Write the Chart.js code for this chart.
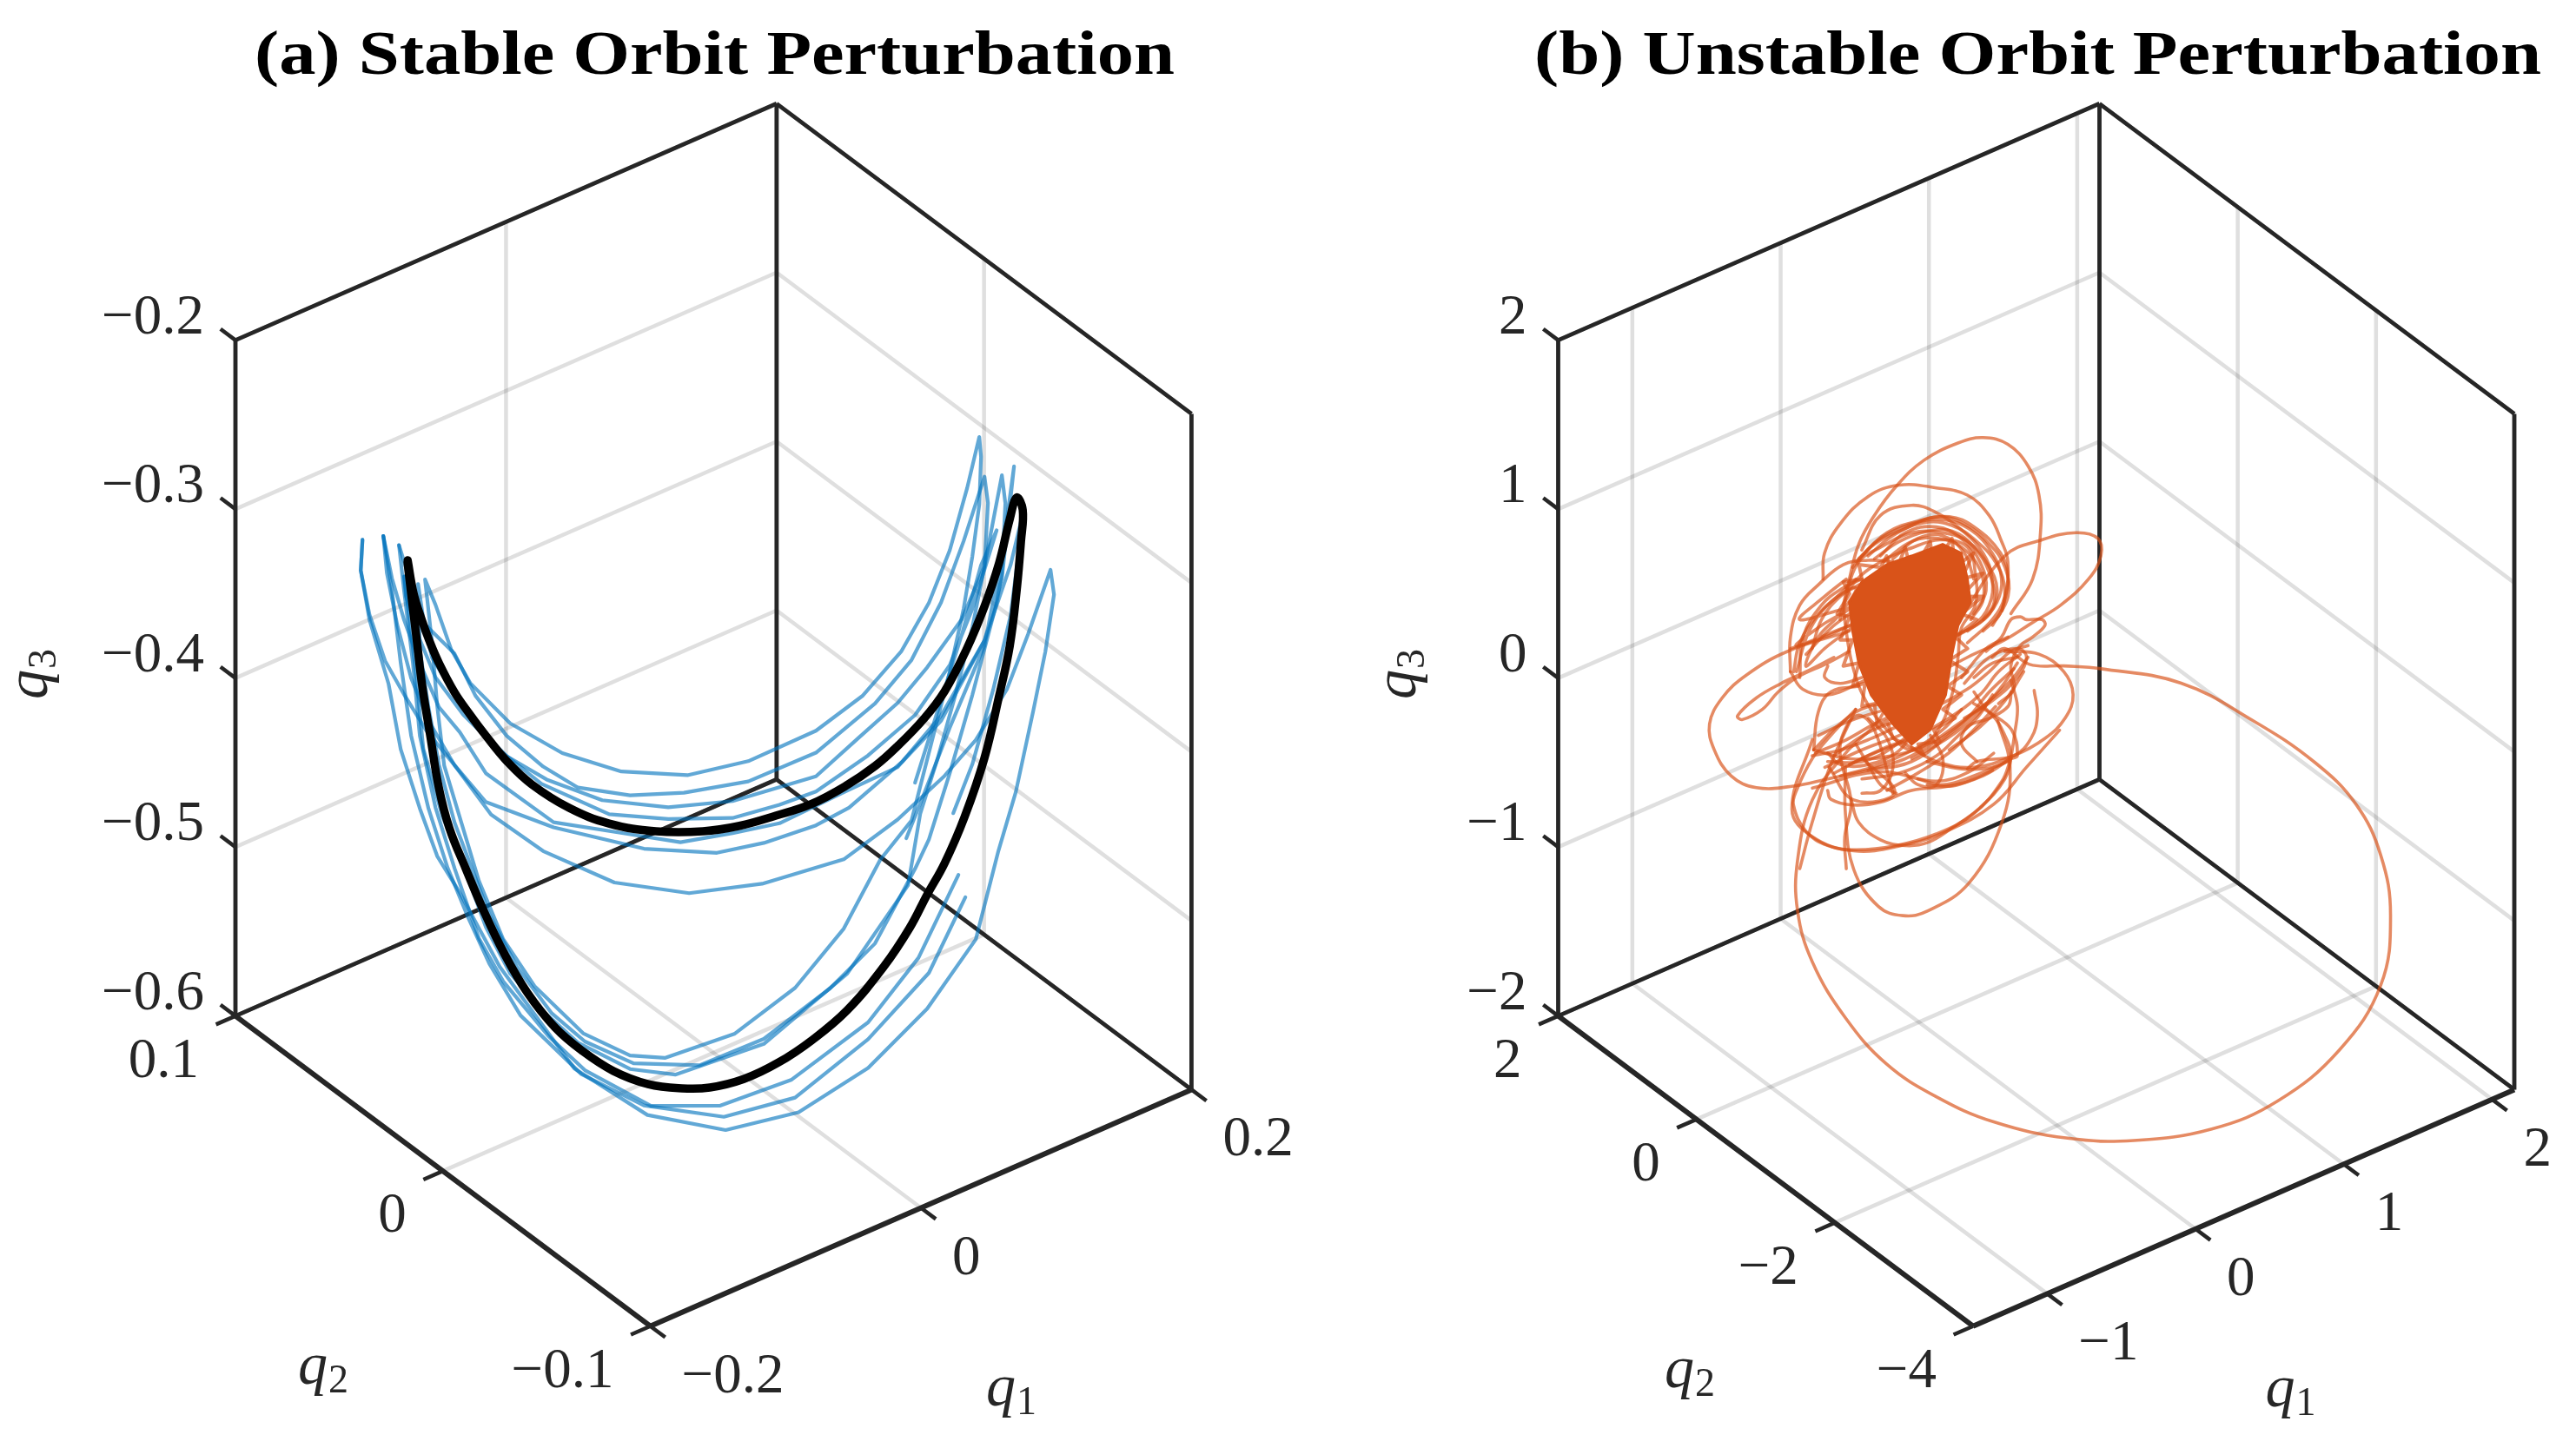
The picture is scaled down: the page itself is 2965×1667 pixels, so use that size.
<!DOCTYPE html>
<html>
<head>
<meta charset="utf-8">
<title>Orbit perturbation</title>
<script src="https://cdn.jsdelivr.net/npm/chart.js@4"></script>
<style>
  html, body { margin: 0; background: #fff; }
  canvas { position: absolute; top: 0; }
</style>
</head>
<body>
<canvas id="panelA" width="1540" height="1667" style="left:0"></canvas>
<canvas id="panelB" width="1425" height="1667" style="left:1540px"></canvas>
<script>
/* ===== AXIS TICKS ===== */
const stableQ1Ticks = [-0.2, 0, 0.2];
const stableQ2Ticks = [0.1, 0, -0.1];
const stableQ3Ticks = [-0.2, -0.3, -0.4, -0.5, -0.6];
const stableQ1Labels = ['−0.2', '0', '0.2'];
const stableQ2Labels = ['0.1', '0', '−0.1'];
const stableQ3Labels = ['−0.2', '−0.3', '−0.4', '−0.5', '−0.6'];

const unstableQ1Ticks = [-1, 0, 1, 2];
const unstableQ2Ticks = [2, 0, -2, -4];
const unstableQ3Ticks = [2, 1, 0, -1, -2];
const unstableQ1Labels = ['−1', '0', '1', '2'];
const unstableQ2Labels = ['2', '0', '−2', '−4'];
const unstableQ3Labels = ['2', '1', '0', '−1', '−2'];

/* ===== (a) NOMINAL ORBIT ===== */
const orbitQ1 = [-.176,-.1726,-.168,-.1636,-.158,-.149,-.140,-.131,-.1186,-.1046,-.0831,-.0601,-.0331,-.0061,.0144,.0359,.056,.076,.093,.106,.121,.133,.1455,.156,.1644,.1705,.1745,.178,.177,.1745,.1705,.1644,.1559,.1444,.133,.123,.113,.098,.0769,.0569,.0374,.0174,-.0021,-.0181,-.0376,-.0576,-.0754,-.0911,-.1071,-.1206,-.1326,-.1426,-.152,-.158,-.163,-.1676,-.171,-.1738,-.1761];
const orbitQ3 = [-.2768,-.2970,-.3133,-.3265,-.3409,-.3599,-.3748,-.3887,-.4064,-.4223,-.4401,-.4535,-.4629,-.4678,-.4684,-.4661,-.4630,-.4558,-.4470,-.4375,-.4242,-.4100,-.3877,-.3638,-.3396,-.3150,-.3028,-.3107,-.3290,-.3578,-.3901,-.4183,-.4538,-.4867,-.5118,-.5285,-.5463,-.5667,-.5887,-.6026,-.6125,-.6187,-.6202,-.6178,-.6118,-.6004,-.5854,-.5687,-.5452,-.5192,-.4913,-.4653,-.4396,-.4149,-.3830,-.3529,-.3229,-.2987,-.2778];

/* ===== (a) PERTURBED TRAJECTORIES ===== */
const stableQ1 = [
  [-.166,-.160,-.151,-.140,-.117,-.087,-.053,-.015,.020,.059,.086,.108,.124,.136,.146,.153,.154,.153,.149,.144,.136,.126,.114,.096,.075,.047,.012,-.028,-.048,-.075,-.103,-.121,-.135,-.155,-.159,-.162,-.166],
  [-.181,-.177,-.169,-.149,-.137,-.119,-.098,-.078,-.048,-.017,.020,.059,.093,.114,.131,.144,.156,.158,.156,.149,.139,.129,.119,.112,.077,.029,-.022,-.048,-.078,-.097,-.117,-.131,-.141,-.156,-.167,-.171,-.175,-.178],
  [-.170,-.167,-.162,-.148,-.133,-.119,-.096,-.064,-.026,.011,.059,.083,.106,.123,.143,.156,.166,.168,.166,.163,.149,.136,.124,.116,.093,.067,.029,-.008,-.046,-.074,-.093,-.113,-.129,-.139,-.149,-.158,-.164,-.169,-.170],
  [-.178,-.177,-.169,-.160,-.144,-.124,-.099,-.060,-.026,.011,.038,.059,.089,.116,.136,.149,.163,.154,.143,.129,.116],
  [-.190,-.185,-.178,-.169,-.158,-.146,-.131,-.092,-.051,-.019,.011,.038,.076,.106,.131,.156,.171,.179,.171,.161,.149,.138],
  [-.202,-.203,-.198,-.189,-.178,-.165,-.149,-.131,-.092,-.040,.002,.029,.059,.078,.109,.131,.156,.166,.173,.166,.156,.136,.121,.111],
  [-.190,-.188,-.182,-.174,-.164,-.149,-.128,-.098,-.057,-.014,.028,.075,.106,.133,.151,.169,.181,.194,.196,.191,.184,.174,.164,.151,.123,.089,.049,.007,-.038,-.080,-.123,-.146,-.159,-.169,-.180,-.187,-.198,-.203,-.202],
  [.145,.124,.089,.047,.006,-.040,-.076,-.111,-.129,-.141,-.153,-.164,-.174,-.180,-.185,-.190],
  [.141,.118,.089,.045,.004,-.036,-.074,-.095,-.121,-.135,-.149,-.160,-.169,-.173,-.178,-.181]
];
const stableQ3 = [
  [-.290,-.306,-.334,-.356,-.384,-.407,-.424,-.433,-.431,-.420,-.404,-.382,-.356,-.327,-.292,-.263,-.275,-.303,-.333,-.363,-.399,-.437,-.483,-.503,-.540,-.570,-.591,-.598,-.593,-.575,-.542,-.511,-.474,-.402,-.366,-.328,-.290],
  [-.267,-.281,-.313,-.337,-.364,-.391,-.413,-.429,-.439,-.443,-.443,-.433,-.410,-.388,-.357,-.323,-.287,-.303,-.340,-.375,-.414,-.449,-.480,-.521,-.567,-.600,-.609,-.601,-.580,-.559,-.532,-.502,-.472,-.432,-.390,-.347,-.312,-.286],
  [-.292,-.313,-.337,-.363,-.386,-.403,-.421,-.439,-.450,-.453,-.447,-.429,-.412,-.394,-.369,-.340,-.288,-.305,-.346,-.363,-.415,-.459,-.496,-.512,-.552,-.574,-.597,-.606,-.598,-.580,-.560,-.529,-.495,-.466,-.437,-.401,-.366,-.331,-.292],
  [-.286,-.298,-.325,-.349,-.374,-.398,-.423,-.448,-.457,-.463,-.460,-.456,-.440,-.421,-.395,-.364,-.320,-.339,-.378,-.421,-.461],
  [-.260,-.286,-.312,-.339,-.367,-.384,-.411,-.447,-.461,-.472,-.472,-.471,-.459,-.450,-.424,-.384,-.342,-.309,-.372,-.414,-.456,-.483],
  [-.260,-.278,-.305,-.334,-.356,-.380,-.403,-.428,-.450,-.472,-.482,-.481,-.476,-.469,-.447,-.427,-.384,-.349,-.284,-.336,-.387,-.432,-.469,-.493],
  [-.260,-.282,-.314,-.347,-.374,-.403,-.436,-.463,-.489,-.503,-.505,-.499,-.481,-.460,-.442,-.415,-.385,-.349,-.364,-.397,-.431,-.477,-.510,-.560,-.596,-.625,-.644,-.647,-.630,-.595,-.527,-.479,-.455,-.425,-.388,-.348,-.308,-.278,-.260],
  [-.534,-.575,-.608,-.635,-.639,-.624,-.599,-.558,-.524,-.495,-.463,-.426,-.381,-.337,-.293,-.260],
  [-.520,-.565,-.598,-.624,-.632,-.625,-.597,-.573,-.536,-.508,-.464,-.426,-.382,-.338,-.295,-.267]
];

/* ===== (b) PERTURBED TRAJECTORY, BROKEN INTO STRANDS ===== */
const unstableQ1 = [
  [.423,.523,.559,.552,.502,.409,.295,.180,.023,-.105,-.205,-.277,-.320,-.363],
  [-.441,-.434,-.363,-.234,-.091,.080,.223,.323,.380,.409,.395,.337,.223],
  [-.263,-.177,-.034,.080,.195,.295,.337,.323,.252,.138],
  [-.277,-.177,-.034,.109,.237,.337,.380,.359,.280,.180],
  [-.177,-.063,.080,.195,.280,.309,.252],
  [-.120,-.006,.109,.209,.252],
  [-.234,-.120,.023,.152,.266,.359,.395,.373,.295],
  [.195,.395,.566,.723,.823,.837,.780,.652,.523,.395,.223,.052],
  [-.591,-.591,-.548,-.463,-.348,-.234,-.120],
  [-.591,-.534,-.420,-.277,-.177],
  [-.320,-.605,-.791,-.905,-.963,-.941,-.863,-.748,-.577,-.420,-.234,-.034,.152,.309],
  [-.320,-.420,-.563,-.648,-.720,-.812,-.834,-.748,-.634,-.520,-.391],
  [.395,.552,.666,.709,.673,.580,.437,.252,.080,-.034],
  [.309,.380,.423,.466,.495,.566,.580,.523,.466,.423,.437,.366],
  [.337,.395,.509,.666,.837,1.206,1.537,1.821,2.010,2.124,2.169,2.124,1.934,1.650,1.347,.988,.684,.344,.078,-.149,-.338,-.490,-.558,-.558,-.490,-.338,-.187,-.120,-.034],
  [-.291,-.405,-.491,-.563,-.577,-.520,-.420,-.291,-.105,.080,.252,.380,.423],
  [-.312,-.277,-.177,-.063,.038,.152,.280,.395,.423,.395,.337,.252],
  [-.548,-.491,-.405,-.291],
  [-.334,-.341,-.312,-.363,-.334,-.277,-.205,-.120],
  [.530,.545,.516,.437,.266,.223],
  [-.420,-.405,-.305,-.177,-.034,.138,.295,.423],
  [-.484,-.320,-.120,.038,.180,.309,.423,.502],
  [-.484,-.463,-.405,-.277],
  [.038,.195,.337,.423],
  [-.005,.109,.252,.409],
  [-.338,-.338,-.300,-.187,-.073,.041,.230,.381,.419,.363],
  [-.490,-.584,-.490,-.300,-.073,.116,.344,.495,.647],
  [-.490,-.187,.078,.230,.344],
  [-.414,-.300,-.111,-.262],
  [-.484,-.363,-.234,-.105,-.005,-.120,-.263,-.420],
  [-.391,-.234,-.063,.080,.223,.323,.423,.502],
  [-.320,-.148,-.005,.138,.280,.366,.466],
  [-.234,-.063,.080,.223,.323,.437],
  [.209,.323,.452,.495,.452,.337,.209],
  [-.563,-.505,-.405,-.291,-.363,-.463,-.520,-.434,-.305,-.563,-.448,-.320,-.548,-.434,-.334],
  [-.063,.095,.223,.259,.259,.195,.180,.152,.080,-.034,-.148,-.248,-.305,-.334,-.341,-.284,-.163,-.063],
  [-.305,-.205,-.062,.081,.210,.325,.396,.410,.339],
  [-.205,-.090,.038,.153,.253,.325,.346,.296],
  [-.162,-.033,.096,.196,.282,.296,.239],
  [-.290,-.147,-.004,.139,.253,.375,.410,.382],
  [-.333,-.276,-.176,-.033,.110,.224,.317,.360,.325,.224],
  [-.548,-.533,-.448,-.348,-.262],
  [-.491,-.448,-.362,-.276],
  [-.591,-.433,-.319,-.233],
  [-.419,-.433,-.362,-.262],
  [-.476,-.348,-.205,-.090],
  [-.433,-.262,-.090,.010],
  [-.362,-.176,-.004,.110,.196],
  [-.262,-.090,.081,.182,.267,.339],
  [-.419,-.362,-.233,-.104,-.033],
  [-.233,-.147,-.119,-.176,-.262],
  [-.290,-.233,-.176,-.104],
  [.053,.110,.081,-.004,-.062],
  [.253,.310,.425,.453,.423],
  [.423,.453,.439,.423],
  [.038,.153,.253,.339],
  [.267,.196,.224,.325,.410,.425],
  [-.462,-.319,-.147,-.033],
  [-.491,-.362,-.219,-.104],
  [-.390,-.233,-.062],
  [-.147,-.004,.139,.253,.353],
  [-.033,.110,.253,.382,.453],
  [.139,.282,.396,.482],
  [.253,.339,.453],
  [.196,.310,.410],
  [-.576,-.548,-.462,-.362,-.290],
  [-.519,-.405,-.319]
];
const unstableQ3 = [
  [.385,.582,.853,1.077,1.253,1.388,1.437,1.414,1.324,1.179,1.015,.850,.647,.410],
  [.656,.810,.976,1.129,1.186,1.156,1.102,.974,.816,.694,.489,.356,.228],
  [.815,1.013,1.062,1.010,.899,.754,.596,.443,.329,.252],
  [.764,.876,.951,.966,.896,.750,.593,.458,.344,.282],
  [.773,.901,.925,.847,.704,.531,.397],
  [.752,.863,.871,.760,.603],
  [.777,.889,.955,.928,.825,.681,.524,.388,.292],
  [.384,.729,.811,.841,.799,.695,.562,.418,.325,.232,.142,.035],
  [.120,.325,.511,.624,.735,.752,.735],
  [.120,.012,-.030,.027,.088],
  [.339,.241,.118,-.011,-.161,-.316,-.476,-.554,-.558,-.528,-.491,-.455,-.297,-.138],
  [.219,.158,.083,.004,-.093,-.146,-.122,-.023,.054,.114,.189],
  [.164,.135,.023,-.117,-.252,-.365,-.456,-.511,-.464,-.369],
  [.171,.250,.350,.363,.344,.339,.304,.239,.192,.076,-.062,-.143],
  [.133,.181,.078,.057,.027,-.087,-.335,-.604,-.866,-1.177,-1.537,-1.946,-2.315,-2.595,-2.737,-2.777,-2.740,-2.617,-2.446,-2.236,-1.948,-1.606,-1.299,-.997,-.646,-.383,-.202,-.036,.128],
  [-.126,-.271,-.403,-.585,-.670,-.829,-.922,-.957,-.947,-.892,-.785,-.607,-.473],
  [-.657,-.796,-.907,-.950,-.941,-.863,-.753,-.591,-.455,-.333,-.209,-.134],
  [-1.049,-.780,-.443,-.126],
  [-1.066,-.876,-.674,-.378,-.226,-.161,-.253,-.636],
  [-.078,-.225,-.360,-.456,-.478,-.518],
  [-.596,-.649,-.691,-.684,-.626,-.613,-.565,-.473],
  [-.351,-.416,-.413,-.358,-.249,-.138,-.010,.121],
  [-.351,-.130,-.014,.010],
  [-.461,-.516,-.518,-.473],
  [-.560,-.603,-.562,-.489],
  [-.465,-.740,-1.072,-1.300,-1.364,-1.345,-1.195,-.850,-.523,-.245],
  [-.289,-.694,-.865,-.963,-.947,-.885,-.737,-.529,-.322],
  [-.577,-.504,-.580,-.536,-.435],
  [-.459,-.661,-.633,-.416],
  [-.351,-.207,-.114,-.124,-.217,-.362,-.437,-.425],
  [-.393,-.268,-.196,-.138,-.046,.049,.162,.190],
  [-.450,-.360,-.302,-.211,-.084,.046,.141],
  [-.491,-.436,-.344,-.218,-.071,.058],
  [-.011,.134,.177,.121,.005,-.124,-.217],
  [.118,.353,.517,.594,.444,.315,.148,.245,.372,.272,.383,.476,.425,.553,.648],
  [.799,.847,.794,.636,.448,.316,.145,-.074,-.292,-.386,-.257,-.070,.132,.340,.512,.644,.747,.799],
  [.715,.844,.927,.985,.932,.803,.661,.488,.322],
  [.758,.852,.902,.894,.792,.631,.459,.360],
  [.738,.848,.855,.796,.653,.480,.364],
  [.748,.908,.966,.981,.912,.748,.591,.405],
  [.580,.747,.825,.899,.888,.828,.684,.527,.391,.297],
  [.082,.320,.503,.598,.643],
  [.249,.417,.547,.610],
  [.257,.313,.373,.417],
  [.141,.073,.033,.060],
  [-.369,-.311,-.219,-.159],
  [-.458,-.368,-.296,-.235],
  [-.515,-.461,-.371,-.277,-.164],
  [-.540,-.519,-.429,-.317,-.221,-.089],
  [-.373,-.447,-.457,-.398,-.300],
  [-.183,-.309,-.482,-.615,-.625],
  [-.332,-.457,-.581,-.638],
  [-.307,-.449,-.601,-.594,-.521],
  [-.065,-.172,-.301,-.457,-.473],
  [-.010,-.166,-.336,-.473],
  [-.598,-.614,-.580,-.535],
  [-.478,-.370,-.269,-.226,-.163,-.078],
  [-.267,-.193,-.137,-.112],
  [-.385,-.361,-.304,-.244],
  [-.496,-.405,-.333],
  [-.617,-.525,-.416,-.288,-.159],
  [-.438,-.346,-.220,-.041,.091],
  [-.399,-.273,-.128,.037],
  [.020,.099,.125],
  [.024,.188,.248],
  [.119,.288,.452,.564,.645],
  [.217,.363,.441]
];

// tight zigzag passes over the rim of the densely wound centre
const rimQ1 = [-.148,-.120,-.063,-.034,.052,.067,.152,.167,.252,.195,.295,.195,.295,.195,.267,.167,.224,.139,.224,.131,.196,.110,.167,.067,.096,-.004,.024,-.062,-.119,-.147,-.190,-.205,-.262,-.248,-.305,-.276,-.348,-.305,-.362,-.319,-.376,-.319,-.348,-.262,-.276,-.176,-.148];
const rimQ3 = [.771,.632,.816,.659,.841,.686,.851,.679,.757,.607,.634,.504,.497,.401,.362,.267,.194,.132,.057,-.022,-.078,-.157,-.213,-.274,-.345,-.354,-.424,-.350,-.311,-.206,-.237,-.099,-.111,.024,.012,.147,.135,.286,.290,.424,.445,.561,.632,.643,.730,.705,.771];

// densely wound centre of the unstable trajectory
const coreQ1 = [-.034,.109,.195,.223,.237,.180,.152,.123,.052,-.034,-.120,-.220,-.277,-.305,-.320,-.263,-.148,-.034];
const coreQ3 = [.762,.820,.761,.605,.467,.334,.166,-.072,-.273,-.352,-.225,-.046,.147,.338,.510,.626,.720,.762];

/* ===== VIEW GEOMETRY ===== */
const INK = '#262626';
const GRID = 'rgba(38,38,38,0.15)';
const BLUE = 'rgba(0,114,189,0.62)';
const ORANGE = 'rgba(217,83,25,0.68)';
const SERIF = "'Liberation Serif', serif";

// corners of the floor in figure pixels, per panel; curves sit on a slanted plane q2 = slice * q1
const viewA = {
  q1: [-0.2, 0.2], q2: [-0.1, 0.1], q3: [-0.6, -0.2], slice: -0.1854,
  front: [748.5, 1526.7], right: [1371.4, 1254.4], left: [271, 1169.6], height: 778,
  xRange: [0, 1540]
};
const viewB = {
  q1: [-1.5, 2.15], q2: [-4, 2], q3: [-2, 2], slice: -1,
  front: [2271, 1526.7], right: [2894, 1254.4], left: [1793.5, 1169.6], height: 778,
  xRange: [1540, 2965]
};

function project(v, q1, q2, q3) {
  const u = (q1 - v.q1[0]) / (v.q1[1] - v.q1[0]);
  const w = (q2 - v.q2[0]) / (v.q2[1] - v.q2[0]);
  const h = (q3 - v.q3[0]) / (v.q3[1] - v.q3[0]);
  return {
    x: v.front[0] + u * (v.right[0] - v.front[0]) + w * (v.left[0] - v.front[0]),
    y: v.front[1] + u * (v.right[1] - v.front[1]) + w * (v.left[1] - v.front[1]) - h * v.height
  };
}

function curve(v, q1s, q3s) {
  return q1s.map((q, i) => project(v, q, v.slice * q, q3s[i]));
}

function lineSet(data, color, width, order, extra) {
  return Object.assign({
    data, showLine: true, pointRadius: 0, borderColor: color, borderWidth: width,
    borderCapStyle: 'round', borderJoinStyle: 'round', order, clip: false, tension: 0
  }, extra || {});
}

/* ===== BOX, GRID, TICKS ===== */
function frameSets(v, q1Ticks, q2Ticks, q3Ticks) {
  const [a0, a1] = v.q1, [b0, b1] = v.q2, [c0, c1] = v.q3;
  const sets = [];
  const seg = (p, q, color, width, order) =>
    sets.push(lineSet([project(v, ...p), project(v, ...q)], color, width, order, { borderCapStyle: 'butt' }));

  q1Ticks.forEach(t => {
    seg([t, b1, c0], [t, b1, c1], GRID, 4.5, 4);
    seg([t, b0, c0], [t, b1, c0], GRID, 4.5, 4);
  });
  q2Ticks.forEach(t => {
    seg([a1, t, c0], [a1, t, c1], GRID, 4.5, 4);
    seg([a0, t, c0], [a1, t, c0], GRID, 4.5, 4);
  });
  q3Ticks.forEach(t => {
    seg([a0, b1, t], [a1, b1, t], GRID, 4.5, 4);
    seg([a1, b1, t], [a1, b0, t], GRID, 4.5, 4);
  });

  // nine visible box edges
  [
    [[a0, b1, c1], [a1, b1, c1]], [[a1, b1, c1], [a1, b0, c1]], [[a1, b1, c0], [a1, b1, c1]],
    [[a0, b1, c0], [a0, b1, c1]], [[a1, b0, c0], [a1, b0, c1]],
    [[a0, b1, c0], [a1, b1, c0]], [[a1, b1, c0], [a1, b0, c0]]
  ].forEach(([p, q]) => seg(p, q, INK, 4.8, 3));
  seg([a0, b0, c0], [a1, b0, c0], INK, 6, 3);
  seg([a0, b0, c0], [a0, b1, c0], INK, 6, 3);

  // tick marks lie along the neighbouring floor edge
  const tick = (p, dir) => {
    const a = project(v, ...p);
    const lenQ1 = 0.036 * (v.q1[1] - v.q1[0]), lenQ2 = 0.036 * (v.q2[1] - v.q2[0]);
    const b = dir === 'q1' ? project(v, p[0] - lenQ1, p[1], p[2])
      : project(v, p[0], p[1] + (dir === 'q3' ? lenQ2 : -lenQ2), p[2]);
    sets.push(lineSet([a, b], INK, 4.5, 3, { borderCapStyle: 'butt' }));
  };
  q1Ticks.forEach(t => tick([t, b0, c0], 'q2'));
  q2Ticks.forEach(t => tick([a0, t, c0], 'q1'));
  q3Ticks.forEach(t => tick([a0, b1, t], 'q3'));
  return sets;
}

/* ===== TEXT ===== */
function panelText(v, title, titleWidth, titleX, ticks, names) {
  const items = [{ text: title, x: titleX, y: 66, align: 'center', font: `bold 72px ${SERIF}`, fit: titleWidth, color: '#000' }];
  const font = `65px ${SERIF}`;
  ticks.q1.forEach((t, i) => {
    const p = project(v, t, v.q2[0], v.q3[0]);
    items.push({ text: ticks.q1Labels[i], x: p.x + 36, y: p.y + 59, align: 'left', font, color: INK });
  });
  ticks.q2.forEach((t, i) => {
    const p = project(v, v.q1[0], t, v.q3[0]);
    items.push({ text: ticks.q2Labels[i], x: p.x - 42, y: p.y + 53, align: 'right', font, color: INK });
  });
  ticks.q3.forEach((t, i) => {
    const p = project(v, v.q1[0], v.q2[1], t);
    items.push({ text: ticks.q3Labels[i], x: p.x - 36, y: p.y - 25, align: 'right', font, color: INK });
  });
  names.forEach(n => items.push(Object.assign({ symbol: true, color: INK }, n)));
  return items;
}

const figureText = {
  id: 'figureText',
  afterDatasetsDraw(chart, args, opts) {
    const { ctx, scales: { x, y } } = chart;
    ctx.save();
    opts.items.forEach(t => {
      const px = x.getPixelForValue(t.x), py = y.getPixelForValue(t.y);
      ctx.fillStyle = t.color;
      ctx.save();
      ctx.translate(px, py);
      if (t.symbol) {
        // italic q with a lowered index
        if (t.rotate) ctx.rotate(t.rotate);
        ctx.textAlign = 'left';
        ctx.textBaseline = 'alphabetic';
        ctx.font = `italic 68px ${SERIF}`;
        ctx.fillText('q', -26, 14);
        const w = ctx.measureText('q').width;
        ctx.font = `46px ${SERIF}`;
        ctx.fillText(t.index, -26 + w + 1, 24);
      } else {
        ctx.font = t.font;
        ctx.textAlign = t.align;
        ctx.textBaseline = 'middle';
        // the title is widened to its extended bold setting
        if (t.fit) ctx.scale(t.fit / ctx.measureText(t.text).width, 1);
        ctx.fillText(t.text, 0, 0);
      }
      ctx.restore();
    });
    ctx.restore();
  }
};

/* ===== CHARTS ===== */
function drawPanel(id, v, datasets, items) {
  new Chart(document.getElementById(id), {
    type: 'scatter',
    data: { datasets },
    plugins: [figureText],
    options: {
      responsive: false, animation: false, devicePixelRatio: 1,
      layout: { padding: 0 },
      plugins: { legend: { display: false }, tooltip: { enabled: false }, figureText: { items } },
      scales: {
        x: { type: 'linear', display: false, min: v.xRange[0], max: v.xRange[1] },
        y: { type: 'linear', display: false, min: 0, max: 1667, reverse: true }
      }
    }
  });
}

drawPanel('panelA', viewA, [
  lineSet(curve(viewA, orbitQ1, orbitQ3), '#000', 9.5, 0, { tension: 0.4 }),
  ...stableQ1.map((q, i) => lineSet(curve(viewA, q, stableQ3[i]), BLUE, 4.2, 1)),
  ...frameSets(viewA, stableQ1Ticks, stableQ2Ticks, stableQ3Ticks)
], panelText(viewA, '(a) Stable Orbit Perturbation', 1059, 822.5,
  { q1: stableQ1Ticks, q1Labels: stableQ1Labels, q2: stableQ2Ticks, q2Labels: stableQ2Labels, q3: stableQ3Ticks, q3Labels: stableQ3Labels },
  [{ index: '1', x: 1161, y: 1604 }, { index: '2', x: 369, y: 1579 }, { index: '3', x: 40, y: 779, rotate: -Math.PI / 2 }]));

drawPanel('panelB', viewB, [
  lineSet(curve(viewB, coreQ1, coreQ3), 'rgb(217,83,25)', 3, 0, { fill: 'shape', backgroundColor: 'rgb(217,83,25)' }),
  lineSet(curve(viewB, rimQ1, rimQ3), ORANGE, 4, 1),
  ...unstableQ1.map((q, i) => lineSet(curve(viewB, q, unstableQ3[i]), ORANGE, 3.6, 1, { tension: 0.4 })),
  ...frameSets(viewB, unstableQ1Ticks, unstableQ2Ticks, unstableQ3Ticks)
], panelText(viewB, '(b) Unstable Orbit Perturbation', 1159, 2345.5,
  { q1: unstableQ1Ticks, q1Labels: unstableQ1Labels, q2: unstableQ2Ticks, q2Labels: unstableQ2Labels, q3: unstableQ3Ticks, q3Labels: unstableQ3Labels },
  [{ index: '1', x: 2633.5, y: 1605 }, { index: '2', x: 1942, y: 1583 }, { index: '3', x: 1615, y: 779, rotate: -Math.PI / 2 }]));
</script>
</body>
</html>
